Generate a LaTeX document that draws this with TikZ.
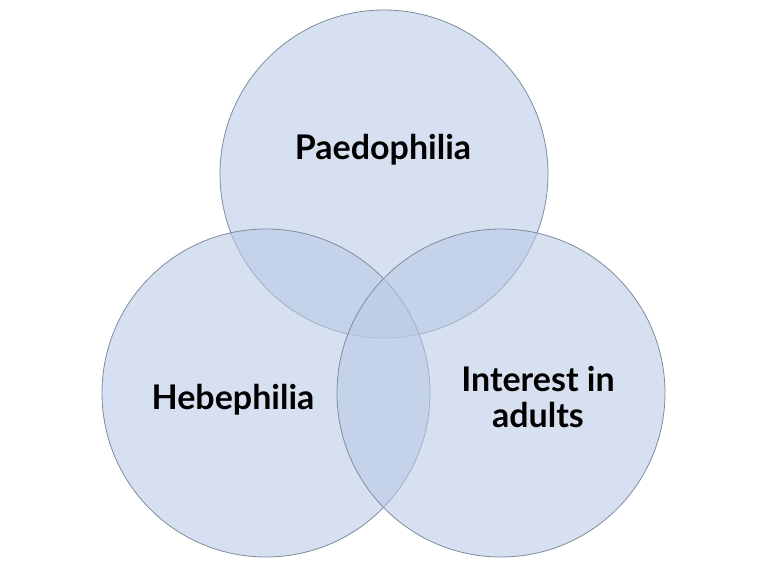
\documentclass[tikz,border=0pt]{standalone}
\usepackage{fontspec}
\setmainfont{Lato}
\usepackage{xcolor}
\definecolor{setfill}{RGB}{185,202,229}
\definecolor{setline}{RGB}{125,140,158}

\begin{document}
\begin{tikzpicture}[x=0.75pt, y=-0.75pt]
		\tikzset{set/.style = {shape=circle, draw=setline, line width=0.6pt, fill=setfill, fill opacity=0.58, minimum size=246pt, inner sep=0pt}}
		\tikzset{setlabel/.style = {font=\fontsize{25.5}{27}\selectfont\bfseries, align=center, text=black}}

		\useasboundingbox (0,0) rectangle (768,568);

		\node[set] (Paed) at (384,174) {};
		\node[set] (Hebe) at (266,393) {};
		\node[set] (Adult) at (501,393) {};

		\node[setlabel] (PaedLabel) at (383,150) {Paedophilia};
		\node[setlabel] (HebeLabel) at (233,400) {Hebephilia};
		\node[setlabel] (AdultLabel) at (538,397) {Interest in\\adults};

	\end{tikzpicture}
\end{document}
